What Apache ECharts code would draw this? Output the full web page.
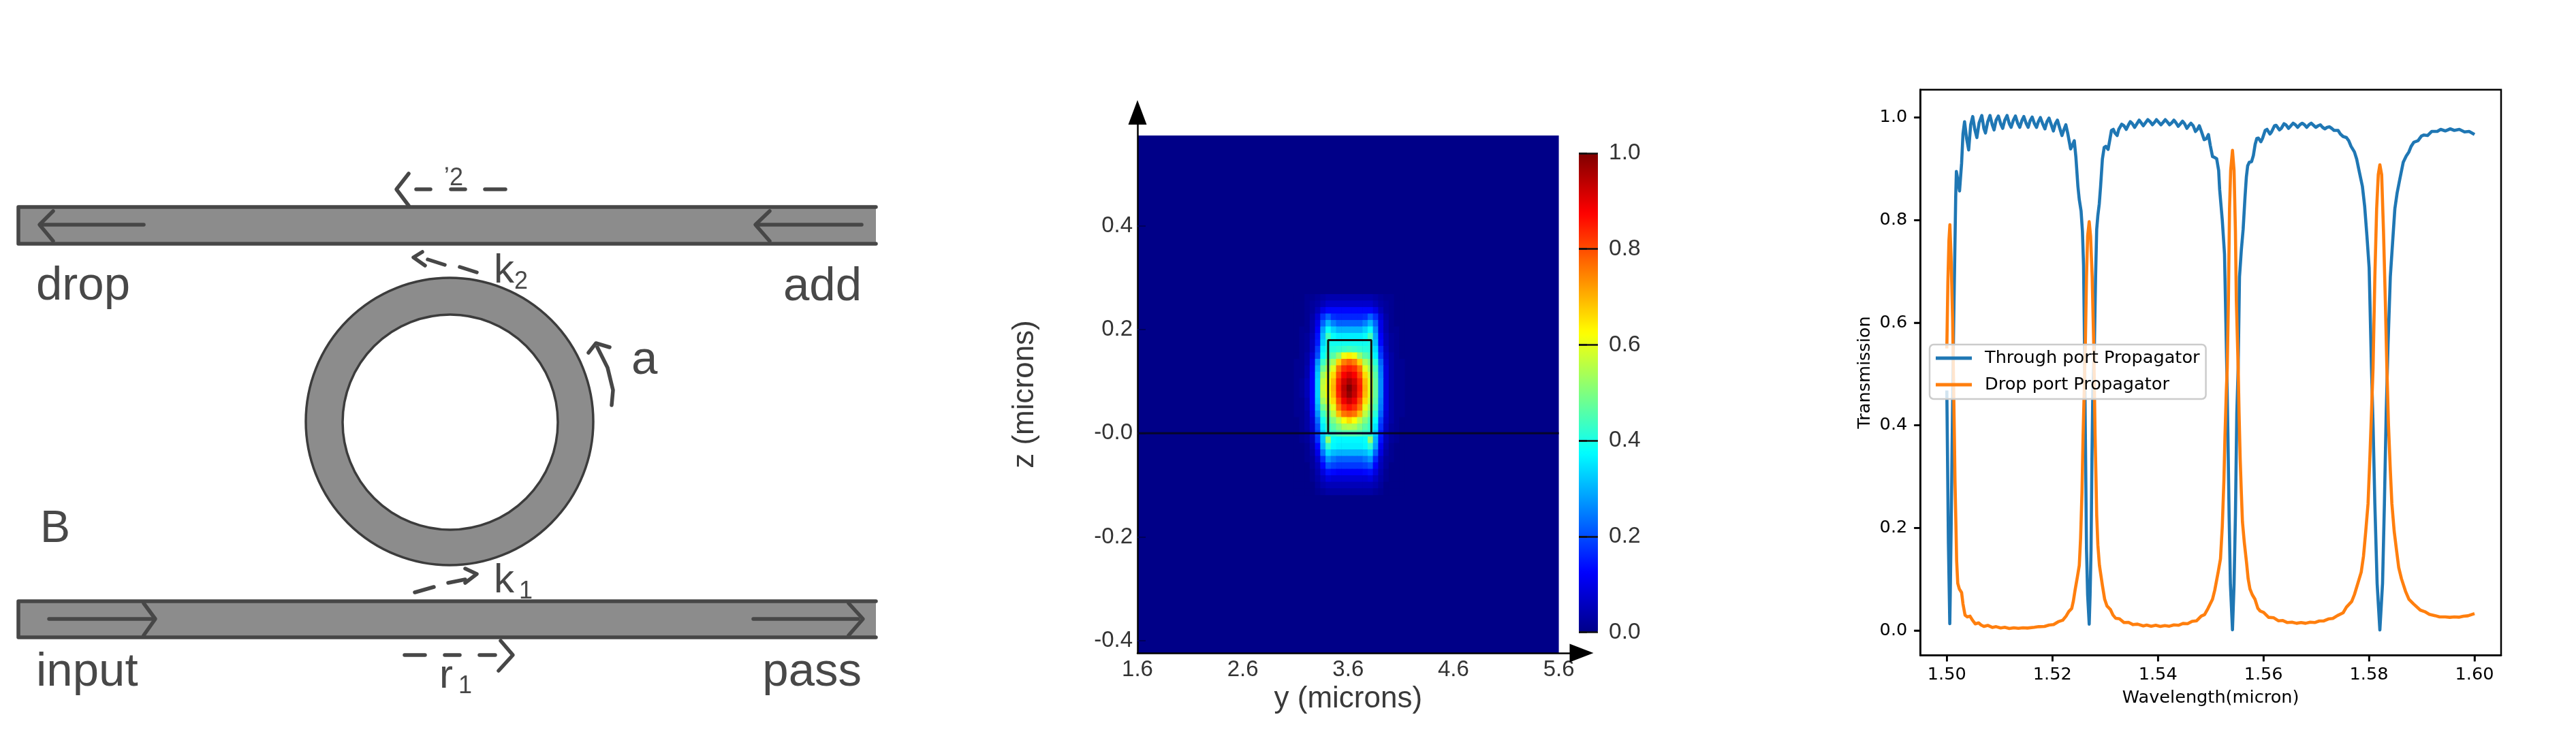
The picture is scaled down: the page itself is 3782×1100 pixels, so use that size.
<!DOCTYPE html>
<html><head><meta charset="utf-8">
<style>html,body{margin:0;padding:0;background:#fff}#c{width:3782px;height:1100px}</style>
<script src="https://cdn.jsdelivr.net/npm/echarts@6/dist/echarts.min.js"></script>
</head><body><div id="c"></div>
<script>
// ---- Panel 3: transmission spectra
const throughWl=[1.5,1.5003,1.50056,1.50065,1.50082,1.50099,1.50117,1.5013,1.50151,1.50168,1.50181,1.50216,1.50241,1.5028,1.50306,1.50336,1.50375,1.50414,1.50452,1.50491,1.5053,1.50569,1.50612,1.50663,1.50702,1.50732,1.50775,1.50818,1.50861,1.50895,1.50934,1.50977,1.5102,1.51059,1.51098,1.51141,1.51184,1.51218,1.51261,1.513,1.51343,1.51382,1.51425,1.51459,1.51506,1.51541,1.51579,1.51618,1.51661,1.517,1.51734,1.51773,1.51816,1.51859,1.51898,1.51937,1.5198,1.52019,1.52057,1.52096,1.52135,1.52182,1.52221,1.52255,1.5229,1.52346,1.5238,1.52415,1.52445,1.52484,1.5251,1.52544,1.5257,1.52591,1.52604,1.52617,1.5263,1.52647,1.52668,1.52698,1.52715,1.52733,1.5275,1.52767,1.52797,1.52819,1.5284,1.52862,1.52888,1.52914,1.52948,1.52982,1.53013,1.53056,1.53086,1.5312,1.53155,1.53185,1.53228,1.53258,1.53314,1.53357,1.534,1.53443,1.53477,1.53516,1.53559,1.53602,1.53645,1.53688,1.53723,1.53766,1.53809,1.53852,1.53895,1.53938,1.53972,1.54015,1.54058,1.54101,1.5414,1.54183,1.54221,1.54264,1.54303,1.54342,1.54385,1.54428,1.54467,1.54506,1.54549,1.54583,1.54626,1.54669,1.54712,1.54747,1.54785,1.54824,1.54876,1.54919,1.54958,1.54992,1.55035,1.55078,1.55113,1.55151,1.5517,1.5522,1.55262,1.55288,1.55305,1.55327,1.55349,1.55374,1.55413,1.55443,1.55469,1.55495,1.55521,1.55546,1.55581,1.55615,1.5565,1.55676,1.55701,1.55732,1.55775,1.55809,1.55843,1.55873,1.55904,1.55951,1.55981,1.56033,1.56067,1.56123,1.56153,1.56209,1.56239,1.56304,1.56338,1.5639,1.56424,1.56476,1.56519,1.56562,1.56605,1.56648,1.56691,1.56734,1.56777,1.5682,1.56863,1.56906,1.56949,1.56992,1.57035,1.57078,1.57121,1.57164,1.57207,1.5725,1.57293,1.57337,1.57414,1.57457,1.57509,1.57573,1.57616,1.5766,1.57724,1.57767,1.57819,1.57875,1.57918,1.57961,1.58003,1.58047,1.58077,1.58111,1.58154,1.58206,1.58257,1.58292,1.58326,1.58361,1.58404,1.58447,1.5849,1.58533,1.58584,1.58649,1.58705,1.58756,1.58799,1.58851,1.58929,1.58993,1.59036,1.59109,1.59187,1.59251,1.59294,1.59359,1.59445,1.5954,1.59617,1.59712,1.59811,1.59897,1.6];
const throughT=[.468,.17,.0133,.07,.2,.35,.5,.6,.734,.844,.895,.873,.857,.911,.968,.992,.959,.937,.986,1.002,.977,.961,.99,1.004,.979,.97,.992,1.004,.986,.976,.995,1.003,.988,.979,.995,1.004,.988,.981,.995,1.003,.989,.981,.995,1.002,.988,.981,.994,1.001,.988,.981,.992,1,.988,.978,.992,.999,.986,.974,.988,.995,.981,.965,.977,.986,.97,.939,.946,.955,.924,.866,.84,.818,.778,.712,.601,.468,.335,.158,.07,.0124,.07,.158,.335,.468,.557,.69,.782,.809,.831,.866,.919,.942,.944,.938,.955,.975,.977,.97,.965,.977,.987,.984,.977,.986,.992,.988,.981,.988,.995,.989,.984,.99,.996,.992,.986,.991,.996,.991,.986,.991,.996,.991,.986,.99,.995,.99,.983,.988,.993,.988,.979,.984,.989,.984,.973,.977,.984,.973,.957,.959,.967,.946,.924,.922,.92,.897,.86,.8,.734,.601,.512,.38,.225,.09,.0013,.09,.225,.424,.512,.689,.742,.782,.844,.884,.906,.913,.914,.926,.948,.959,.96,.953,.959,.975,.977,.968,.972,.984,.985,.976,.979,.988,.986,.979,.984,.989,.986,.981,.986,.989,.986,.981,.986,.989,.985,.981,.984,.986,.981,.978,.981,.982,.979,.975,.975,.968,.963,.961,.955,.944,.933,.919,.893,.866,.827,.769,.707,.512,.402,.247,.092,.001,.092,.247,.424,.557,.689,.756,.822,.853,.88,.913,.925,.933,.944,.952,.955,.964,.966,.965,.973,.973,.973,.977,.974,.978,.975,.977,.972,.973,.967];
const dropWl=[1.5,1.5002,1.5004,1.50058,1.5008,1.5011,1.5013,1.50143,1.50155,1.50173,1.50186,1.50207,1.50237,1.5028,1.50306,1.50345,1.50388,1.50439,1.50487,1.50538,1.50603,1.50646,1.50702,1.50775,1.50861,1.50934,1.5102,1.51098,1.51184,1.5127,1.51356,1.51442,1.51528,1.51657,1.51743,1.51851,1.51937,1.52023,1.52109,1.52195,1.5226,1.52311,1.52367,1.52397,1.52431,1.52475,1.5251,1.52535,1.52561,1.52582,1.52604,1.52625,1.52647,1.52668,1.52698,1.52724,1.52754,1.52784,1.52797,1.5281,1.52828,1.5284,1.52862,1.52892,1.52948,1.52991,1.53034,1.53099,1.5315,1.53198,1.53271,1.53357,1.53443,1.53529,1.53615,1.53723,1.53787,1.53873,1.53959,1.54045,1.54131,1.54217,1.54303,1.54389,1.54475,1.54562,1.54648,1.54734,1.5482,1.54884,1.54949,1.55035,1.55078,1.55142,1.55186,1.5522,1.5525,1.55271,1.55297,1.55314,1.55336,1.55357,1.55379,1.55413,1.55443,1.55469,1.55486,1.55521,1.55538,1.55559,1.55581,1.55602,1.55637,1.5568,1.5571,1.55744,1.55787,1.55839,1.55895,1.55938,1.56003,1.56097,1.56196,1.56282,1.56368,1.56454,1.5654,1.56627,1.56713,1.56799,1.56885,1.56971,1.57057,1.57143,1.5723,1.57315,1.57401,1.57509,1.57573,1.57672,1.57724,1.57789,1.57853,1.57896,1.57939,1.57982,1.58016,1.58047,1.58077,1.58111,1.58145,1.58176,1.58206,1.5824,1.58275,1.58309,1.58339,1.58369,1.58404,1.58434,1.58477,1.5852,1.58563,1.58615,1.58692,1.58757,1.58843,1.58972,1.59058,1.59144,1.59252,1.59338,1.59445,1.59531,1.59617,1.59703,1.59789,1.59875,1.6];
const dropT=[.55,.68,.76,.791,.73,.605,.468,.38,.291,.203,.136,.092,.081,.074,.052,.03,.0265,.028,.02,.013,.015,.011,.008,.01,.006,.0075,.005,.0062,.004,.0053,.0044,.0053,.0048,.0062,.0075,.008,.0106,.0115,.017,.02,.028,.037,.043,.057,.079,.105,.127,.18,.269,.38,.468,.557,.69,.769,.797,.769,.69,.557,.468,.38,.291,.225,.167,.127,.088,.061,.048,.041,.03,.024,.023,.0155,.016,.0115,.0124,.009,.0106,.0084,.0102,.008,.0097,.0084,.011,.0102,.0137,.0133,.018,.019,.028,.031,.043,.061,.079,.114,.14,.203,.291,.38,.468,.512,.645,.822,.897,.936,.897,.778,.645,.512,.424,.335,.269,.212,.172,.132,.101,.081,.07,.061,.043,.038,.0354,.0257,.0248,.019,.0195,.0155,.0163,.0141,.0155,.0141,.0163,.0155,.0186,.0186,.0225,.0235,.029,.0345,.0456,.0566,.07,.092,.114,.145,.194,.247,.335,.424,.512,.689,.822,.889,.908,.889,.778,.645,.512,.402,.313,.247,.194,.158,.123,.101,.0766,.061,.052,.0398,.0367,.0314,.029,.0265,.0265,.0257,.0265,.026,.0278,.0287,.033];
const wavelengthTicks=[1.5,1.52,1.54,1.56,1.58,1.6];
const transmissionTicks=[0,.2,.4,.6,.8,1];
const legendNames=['Through port Propagator','Drop port Propagator'];

// ---- Panel 2: mode field, percent of peak (rows top to bottom, columns left to right)
const fieldY=[3.11,3.16,3.21,3.26,3.31,3.36,3.41,3.46,3.51,3.56,3.61,3.66,3.71,3.76,3.81,3.86,3.91,3.96,4.01,4.06,4.11];
const fieldZ=[.2625,.25,.2375,.225,.2125,.2,.1875,.175,.1625,.15,.1375,.125,.1125,.1,.0875,.075,.0625,.05,.0375,.025,.0125,0,-.0125,-.025,-.0375,-.05,-.0625,-.075,-.0875,-.1,-.1125];
const fieldRows=[
[0,0,1,1,2,3,4,4,4,4,4,4,4,4,4,3,2,1,1,0,0],
[0,0,1,2,3,5,7,7,7,7,7,7,7,7,7,5,3,2,1,0,0],
[0,0,1,2,5,10,13,13,13,13,13,13,13,13,13,10,5,2,1,0,0],
[0,0,1,3,8,17,22,17,16,16,16,16,16,17,22,17,8,3,1,0,0],
[0,0,1,4,10,22,30,25,22,22,22,22,22,25,30,22,10,4,1,0,0],
[0,1,1,4,12,28,38,33,30,30,30,30,30,33,38,26,10,4,1,1,0],
[0,1,2,5,14,31,44,38,36,36,36,36,36,38,44,29,12,5,2,1,0],
[0,1,2,6,15,33,40,39,39,39,39,39,39,39,40,31,13,5,2,1,0],
[0,1,2,6,18,36,41,41,42,43,44,43,42,41,41,34,16,6,2,1,0],
[0,1,3,8,20,38,44,46,52,61,64,61,52,46,44,36,18,7,3,1,0],
[1,1,3,10,27,43,50,54,67,75,78,75,67,54,50,41,22,8,3,1,1],
[1,1,4,11,30,48,55,60,76,83,85,83,76,60,54,44,24,9,3,1,1],
[1,1,4,12,32,53,60,66,80,88,91,88,80,66,58,46,25,9,3,1,1],
[1,2,5,12,33,56,62,69,84,92,96,92,84,69,60,47,26,9,3,1,1],
[1,2,5,12,33,57,63,70,85,94,100,94,85,70,60,47,26,9,3,1,1],
[1,2,5,12,33,56,62,69,84,93,98,93,84,69,60,47,26,9,3,1,1],
[1,1,4,12,32,53,60,66,80,89,93,89,80,66,58,46,25,9,3,1,1],
[1,1,4,11,30,48,55,60,76,83,86,83,76,60,54,44,24,9,3,1,1],
[1,1,3,10,27,43,50,56,69,76,78,76,69,56,50,41,22,8,3,1,1],
[0,1,3,8,23,39,46,50,56,62,66,62,56,50,45,38,19,7,3,1,0],
[0,1,3,7,20,36,43,46,50,54,55,54,50,46,43,35,17,6,2,1,0],
[0,1,2,6,18,33,42,43,45,46,46,46,45,43,42,32,15,5,2,1,0],
[0,1,2,5,17,32,52,38,37,37,37,37,37,38,52,30,14,5,2,1,0],
[0,0,1,4,13,30,42,37,36,36,36,36,36,37,42,28,11,4,1,0,0],
[0,0,1,3,10,24,34,31,30,30,30,30,30,31,34,22,9,3,1,0,0],
[0,0,1,2,7,17,27,24,22,22,22,22,22,24,27,16,6,2,1,0,0],
[0,0,0,2,5,13,21,19,18,18,18,18,18,19,21,12,5,2,0,0,0],
[0,0,0,1,4,9,14,13,12,12,12,12,12,13,14,9,4,1,0,0,0],
[0,0,0,1,3,6,9,8,8,8,8,8,8,8,9,6,3,1,0,0,0],
[0,0,0,0,2,4,5,5,5,5,5,5,5,5,5,4,2,0,0,0,0],
[0,0,0,0,1,2,3,3,3,3,3,3,3,3,3,2,1,0,0,0,0]];
const fieldStepY=.05, fieldStepZ=.0125;
const coreY=[3.41,3.82,3.82,3.41,3.41];
const coreZ=[0,0,.18,.18,0];
const substrateY=[1.6,5.6];
const substrateZ=[0,0];
const yMicronTicks=[1.6,2.6,3.6,4.6,5.6];
const zMicronTicks=[-.4,-.2,0,.2,.4];
const colorbarStops=['#000088','#0000ff','#007fff','#00ffff','#7fff7f','#ffff00','#ff7f00','#ff0000','#7f0000'];

// ---- Panel 1: schematic of the add-drop ring, in diagram units
const guideBars=[[27,1286,304,358],[27,1286,883,936]];
const ringCircles=[[660,619,211,0],[661,620,158,1]];
const solidStrokes=[
[[1286,304],[27,304],[27,358],[1286,358]],[[1286,883],[27,883],[27,936],[1286,936]],
[[211,330],[63,330]],[[78,310],[58,330],[78,354]],
[[1265,330],[1113,330]],[[1130,310],[1109,330],[1130,354]],
[[72,909],[223,909]],[[211,886],[228,909],[211,933]],
[[1106,909],[1260,909]],[[1246,886],[1267,909],[1246,933]],
[[898,595],[900,573],[892,540],[877,510]],[[864,518],[875,504],[895,510]],
[[600,255],[582,278],[600,302]],[[611,278],[632,278]],[[662,278],[683,278]],[[712,278],[742,278]],
[[620,370],[607,378],[624,390]],[[628,381],[653,389]],[[675,392],[700,400]],
[[609,870],[637,862]],[[658,856],[683,851]],[[683,835],[700,843],[683,856]],
[[594,962],[624,962]],[[653,962],[675,962]],[[704,962],[727,962]],[[735,941],[753,962],[732,985]]];
const diagramLabels=[
['drop',53,421,69,'left'],['add',1265,422,69,'right'],['input',53,988,69,'left'],['pass',1265,988,69,'right'],
['B',59,778,66,'left'],['a',927,530,69,'left'],
['k',725,398,60,'left'],['2',755,414,36,'left'],['k',725,853,60,'left'],['1',762,869,36,'left'],
['r',645,993,60,'left'],['1',673,1008,36,'left'],['ʼ2',652,262,36,'left']];

// ---- Helpers
const SANS='"Liberation Sans",Arial,sans-serif', DJ='"DejaVu Sans",sans-serif';
const zip=(a,b)=>a.map((v,i)=>[v,b[i]]);
const idx=a=>a.map((_,i)=>[i]);
const fieldData=[];
fieldRows.forEach((r,i)=>r.forEach((v,j)=>fieldData.push([fieldY[j],fieldZ[i],v/100])));
const hidden=(o)=>Object.assign({show:false,type:'value'},o);
const spine={show:true,onZero:false,lineStyle:{color:'#000',width:2.5}};
const X3MIN=1.49497, Y3MIN=-.0482;

const option={
 animation:false,backgroundColor:'#fff',
 grid:[
  {left:0,top:200,width:1320,height:860},
  {left:1670,top:199,width:618.6,height:760,show:true,backgroundColor:'#000088',borderWidth:0},
  {left:1670,top:165,width:652,height:794},
  {left:2318,top:225,width:28,height:703.5},
  {left:2819.3,top:131.7,width:852.7,height:830.6,show:true,borderColor:'#000',borderWidth:2.5}
 ],
 xAxis:[
  hidden({gridIndex:0,min:0,max:1320}),
  {gridIndex:1,type:'value',min:1.6,max:5.6,name:'y (microns)',nameLocation:'middle',nameGap:46,
   nameTextStyle:{fontFamily:SANS,fontSize:44,color:'#3a3a3a'},
   splitLine:{show:false},axisLine:{show:false,onZero:false},
   axisTick:{show:false},
   axisLabel:{customValues:yMicronTicks,formatter:v=>v.toFixed(1),fontFamily:SANS,fontSize:33,color:'#333',margin:8,hideOverlap:false}},
  {gridIndex:2,type:'value',min:0,max:1,splitLine:{show:false},axisTick:{show:false},axisLabel:{show:false},
   axisLine:{show:true,onZero:false,symbol:['none','triangle'],symbolSize:[27,35],lineStyle:{color:'#000',width:2.5}}},
  hidden({gridIndex:3,min:0,max:1}),
  {gridIndex:4,type:'value',min:X3MIN,max:1.60503,name:'Wavelength(micron)',nameLocation:'middle',nameGap:50,
   nameTextStyle:{fontFamily:DJ,fontSize:25.6,color:'#000'},splitLine:{show:false},
   axisLine:spine,axisTick:{show:true,customValues:wavelengthTicks,length:9,lineStyle:{color:'#000',width:2.5}},
   axisLabel:{customValues:wavelengthTicks,formatter:v=>v.toFixed(2),fontFamily:DJ,fontSize:25.6,color:'#000',margin:16}}
 ],
 yAxis:[
  hidden({gridIndex:0,min:200,max:1060,inverse:true}),
  {gridIndex:1,type:'value',min:-.4243,max:.575,name:'z (microns)',nameLocation:'middle',nameGap:143,nameRotate:90,
   nameTextStyle:{fontFamily:SANS,fontSize:44,color:'#3a3a3a'},
   splitLine:{show:false},axisLine:{show:false,onZero:false},
   axisTick:{show:true,inside:true,customValues:zMicronTicks,length:12,lineStyle:{color:'#00005a',width:2}},
   axisLabel:{customValues:zMicronTicks,formatter:v=>(v===0?'-0.0':v.toFixed(1)),fontFamily:SANS,fontSize:33,color:'#333',margin:7}},
  {gridIndex:2,type:'value',min:0,max:1,splitLine:{show:false},axisTick:{show:false},axisLabel:{show:false},
   axisLine:{show:true,onZero:false,symbol:['none','triangle'],symbolSize:[27,36],lineStyle:{color:'#000',width:2.5}}},
  {gridIndex:3,type:'value',min:0,max:1,interval:.2,position:'right',z:10,
   axisLine:{show:false},axisTick:{show:true,length:12,lineStyle:{color:'#111',width:2.5}},
   splitLine:{show:true,lineStyle:{color:'#111',width:2.5}},
   axisLabel:{formatter:v=>v.toFixed(1),fontFamily:SANS,fontSize:33.5,color:'#333',margin:16}},
  {gridIndex:4,type:'value',min:Y3MIN,max:1.0544,name:'Transmission',nameLocation:'middle',nameGap:68,
   nameTextStyle:{fontFamily:DJ,fontSize:25.6,color:'#000'},splitLine:{show:false},
   axisLine:spine,axisTick:{show:true,customValues:transmissionTicks,length:9,lineStyle:{color:'#000',width:2.5}},
   axisLabel:{customValues:transmissionTicks,formatter:v=>v.toFixed(1),fontFamily:DJ,fontSize:25.6,color:'#000',margin:19}}
 ],
 visualMap:[{type:'continuous',seriesIndex:4,dimension:2,min:0,max:1,left:2318,top:225,itemWidth:28,itemHeight:703.5,padding:0,
   calculable:false,hoverLink:false,realtime:false,textStyle:{fontSize:1,color:'transparent'},inRange:{color:colorbarStops}}],
 legend:{data:legendNames,left:2833,top:506,orient:'vertical',icon:'rect',padding:[7,9,8,9],itemWidth:53,itemHeight:5,itemGap:13,
   selectedMode:false,backgroundColor:'rgba(255,255,255,0.8)',borderColor:'#cccccc',borderWidth:2.5,borderRadius:6,
   textStyle:{fontFamily:DJ,fontSize:25.6,color:'#000',padding:[0,0,0,14]}},
 series:[
  {type:'custom',xAxisIndex:0,yAxisIndex:0,silent:true,clip:false,data:guideBars,renderItem:(p,api)=>{
    const a=api.coord([api.value(0),api.value(2)]),b=api.coord([api.value(1),api.value(3)]);
    return {type:'rect',shape:{x:a[0],y:a[1],width:b[0]-a[0],height:b[1]-a[1]},style:{fill:'#8c8c8c'}};}},
  {type:'custom',xAxisIndex:0,yAxisIndex:0,silent:true,clip:false,data:ringCircles,renderItem:(p,api)=>{
    const c=api.coord([api.value(0),api.value(1)]);
    return {type:'circle',shape:{cx:c[0],cy:c[1],r:api.size([api.value(2),0])[0]},
      style:{fill:api.value(3)?'#fff':'#8c8c8c',stroke:'#3c3c3c',lineWidth:3.5}};}},
  {type:'custom',xAxisIndex:0,yAxisIndex:0,silent:true,clip:false,data:idx(solidStrokes),encode:{x:[],y:[]},renderItem:(p,api)=>{
    const pts=solidStrokes[api.value(0)].map(q=>api.coord(q));
    return {type:'polyline',shape:{points:pts},style:{fill:'none',stroke:'#474747',lineWidth:5.5,lineJoin:'round',lineCap:'round'}};}},
  {type:'custom',xAxisIndex:0,yAxisIndex:0,silent:true,clip:false,data:idx(diagramLabels),encode:{x:[],y:[]},renderItem:(p,api)=>{
    const l=diagramLabels[api.value(0)],c=api.coord([l[1],l[2]]);
    return {type:'text',x:c[0],y:c[1],style:{text:l[0],fontFamily:SANS,fontSize:l[3],fill:'#484848',align:l[4],verticalAlign:'middle'}};}},
  {type:'custom',xAxisIndex:1,yAxisIndex:1,silent:true,progressive:0,data:fieldData,encode:{x:0,y:1},renderItem:(p,api)=>{
    const c=api.coord([api.value(0),api.value(1)]),s=api.size([fieldStepY,fieldStepZ]);
    return {type:'rect',shape:{x:c[0]-s[0]/2,y:c[1]-s[1]/2,width:s[0]+.6,height:s[1]+.6},style:{fill:api.visual('color')}};}},
  {type:'line',name:'core',xAxisIndex:1,yAxisIndex:1,silent:true,symbol:'none',data:zip(coreY,coreZ),lineStyle:{color:'#111',width:3}},
  {type:'line',name:'substrate',xAxisIndex:1,yAxisIndex:1,silent:true,symbol:'none',data:zip(substrateY,substrateZ),lineStyle:{color:'#06062a',width:3}},
  {type:'line',name:legendNames[0],xAxisIndex:4,yAxisIndex:4,symbol:'none',smooth:false,silent:true,data:zip(throughWl,throughT),itemStyle:{color:'#1f77b4'},lineStyle:{color:'#1f77b4',width:4.6,join:'round'}},
  {type:'line',name:legendNames[1],xAxisIndex:4,yAxisIndex:4,symbol:'none',smooth:false,silent:true,data:zip(dropWl,dropT),itemStyle:{color:'#ff7f0e'},lineStyle:{color:'#ff7f0e',width:4.6,join:'round'}},
  {type:'custom',xAxisIndex:4,yAxisIndex:4,silent:true,clip:false,data:wavelengthTicks.map(v=>[v]),encode:{x:0,y:[]},renderItem:(p,api)=>{
    const c=api.coord([api.value(0),Y3MIN]);
    return {type:'line',shape:{x1:c[0],y1:c[1],x2:c[0],y2:c[1]+9},style:{stroke:'#000',lineWidth:2.5}};}},
  {type:'custom',xAxisIndex:4,yAxisIndex:4,silent:true,clip:false,data:transmissionTicks.map(v=>[v]),encode:{x:[],y:0},renderItem:(p,api)=>{
    const c=api.coord([X3MIN,api.value(0)]);
    return {type:'line',shape:{x1:c[0],y1:c[1],x2:c[0]-9,y2:c[1]},style:{stroke:'#000',lineWidth:2.5}};}}
 ]
};
echarts.init(document.getElementById('c')).setOption(option);
</script></body></html>
